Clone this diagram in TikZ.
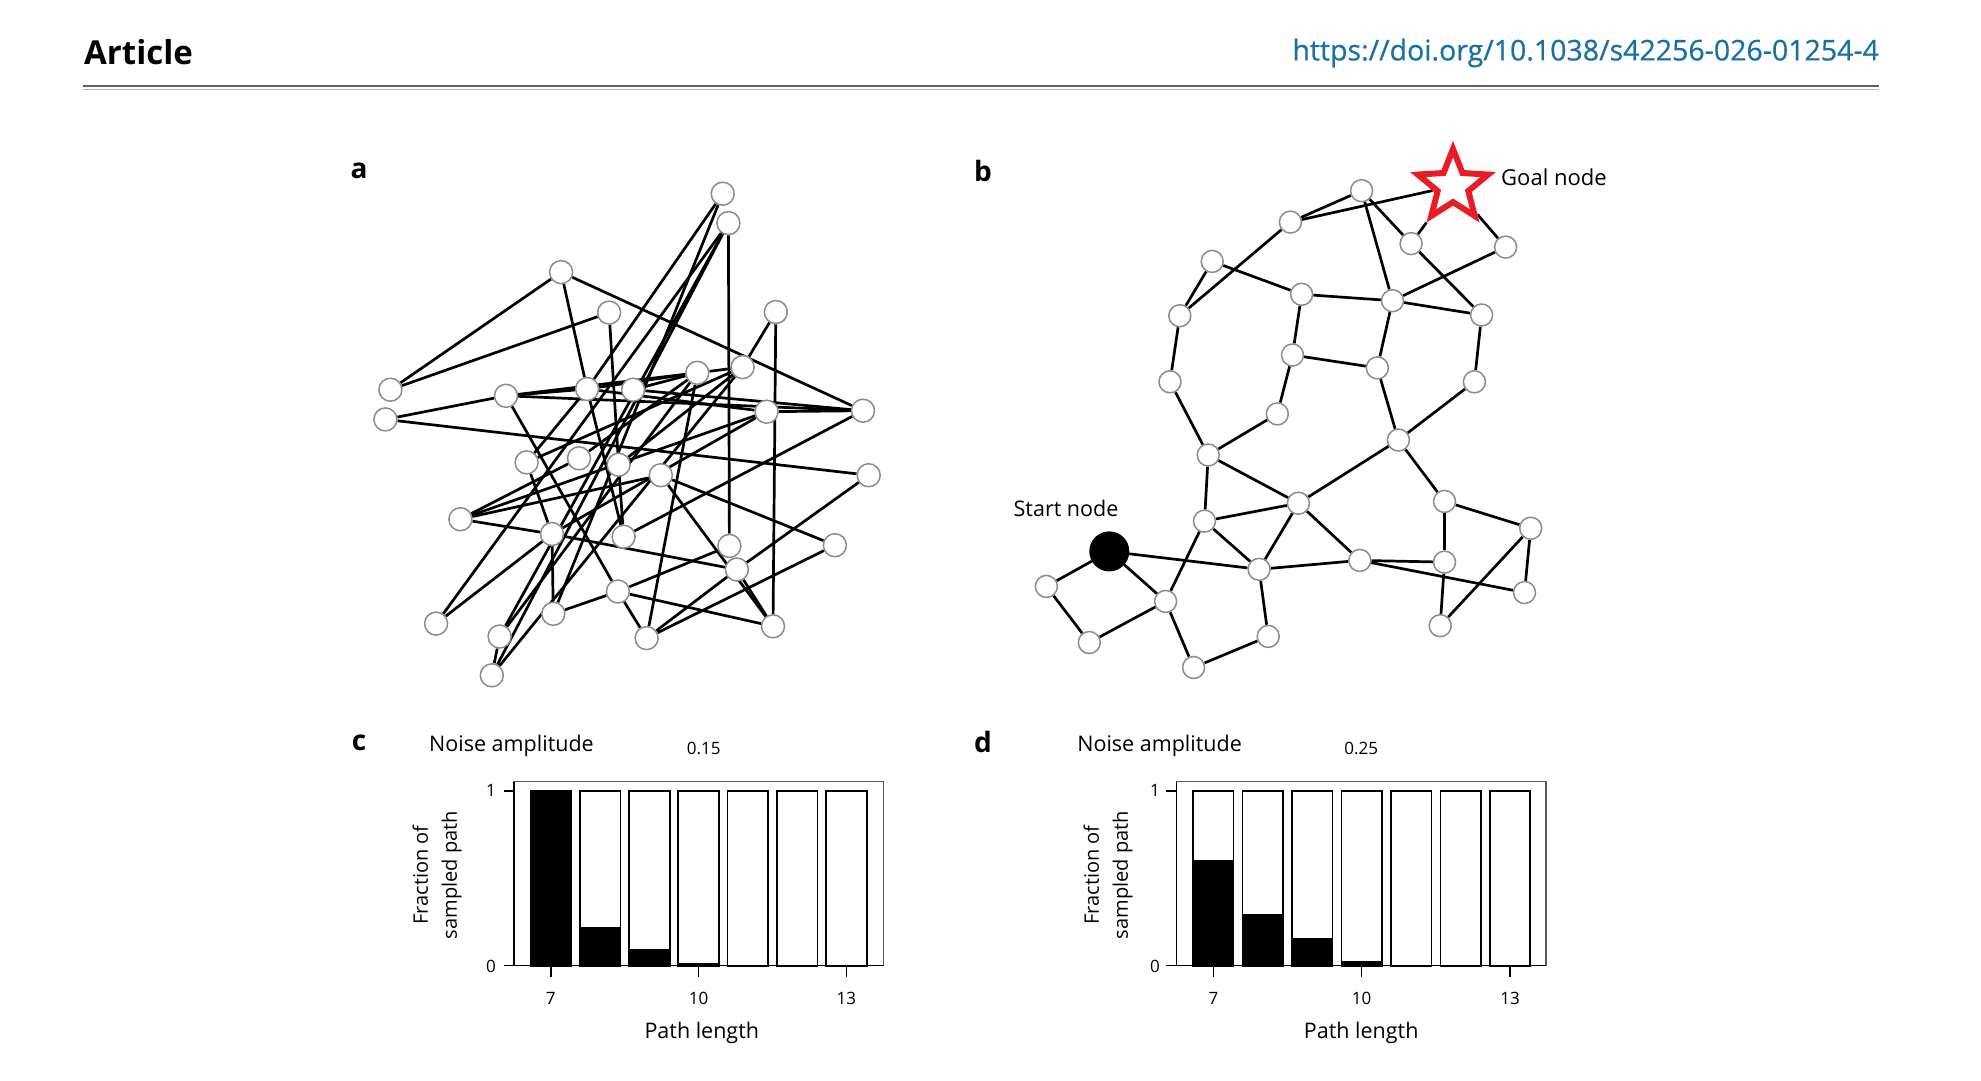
\documentclass[tikz,border=0pt]{standalone}
\usepackage{fontspec}
\setmainfont{Open Sans}
\usetikzlibrary{shapes.geometric,backgrounds}
\definecolor{doiblue}{RGB}{24,113,165}
\definecolor{goalred}{RGB}{232,28,36}
\definecolor{nodegray}{RGB}{140,140,140}
\definecolor{framegray}{RGB}{90,90,90}
\begin{document}
\begin{tikzpicture}[x=1pt,y=-1pt,
  anode/.style={circle,draw=nodegray,fill=white,line width=1.5pt,minimum size=23pt,inner sep=0pt},
  bnode/.style={circle,draw=nodegray,fill=white,line width=1.5pt,minimum size=22pt,inner sep=0pt},
  edge/.style={line width=2.7pt,black},
  lbl/.style={inner sep=0pt,font=\fontsize{21.5}{25}\selectfont},
  ticklbl/.style={inner sep=0pt,font=\fontsize{17}{20}\selectfont},
  plet/.style={inner sep=0pt,font=\fontsize{28}{32}\selectfont\bfseries},
  barline/.style={draw=black,line width=1.6pt},
  framebox/.style={draw=framegray,line width=1.3pt}]
\useasboundingbox (0,0) rectangle (1981,1080);

% ---------- header ----------
\node[inner sep=0pt,anchor=west,font=\fontsize{33}{38}\selectfont\bfseries] (title) at (84,52) {Article};
\node[inner sep=0pt,anchor=east,font=\fontsize{28.5}{33}\selectfont,text=doiblue] (doi) at (1879,53) {\addfontfeature{FakeBold=0.6}https://doi.org/10.1038/s42256-026-01254-4};
\draw[line width=2pt,gray!75!black] (83,85.5) -- (1879,85.5);
\draw[line width=1.2pt,gray!60] (83,89.5) -- (1879,89.5);

% ---------- panel letters ----------
\node[plet] (la) at (359,171) {a};
\node[plet] (lb) at (983,171) {b};
\node[plet] (lc) at (359,743) {c};
\node[plet] (ld) at (983,742) {d};

% ---------- panel a ----------
\foreach \n/\x/\y in {A1/722.7/193.7, A2/728.4/223.1, A3/561.1/272.1, A4/609.1/312.6,
  A5/775.8/312.0, A6/390.4/389.7, A7/385.4/419.4, A8/506.0/395.8, A9/587.1/389.0,
  A10/633.1/389.7, A11/697.3/372.8, A12/742.6/367.1, A13/766.6/411.7, A14/863.0/410.7,
  A15/526.6/462.4, A16/579.0/458.3, A17/618.6/464.7, A18/660.8/475.2, A19/868.7/475.2,
  A20/460.4/519.2, A21/552.0/534.0, A22/623.6/536.7, A23/729.4/545.9, A24/834.9/545.2,
  A25/736.9/569.5, A26/617.9/591.5, A27/436.1/623.6, A28/553.3/613.8, A29/499.6/636.5,
  A30/646.6/638.1, A31/773.0/626.3, A32/491.8/675.3}
  \node[anode] (\n) at (\x,\y) {};

\begin{pgfonlayer}{background}
\foreach \u/\v in {A6/A3, A6/A4, A7/A8, A7/A19, A3/A9, A3/A14, A4/A17, A17/A22, A2/A23,
  A5/A12, A5/A31, A8/A26, A8/A9, A8/A14, A8/A11, A1/A9, A1/A28, A2/A29, A2/A32, A2/A27,
  A9/A11, A10/A11, A9/A13, A11/A12, A10/A14, A13/A14, A14/A22, A15/A21, A15/A9, A15/A12,
  A20/A16, A20/A18, A20/A13, A20/A21, A21/A25, A21/A28, A21/A27, A21/A13, A28/A26,
  A26/A30, A26/A31, A26/A23, A25/A30, A30/A24, A19/A25, A30/A11, A18/A24, A18/A31,
  A25/A31, A29/A32, A32/A12, A29/A11, A9/A22, A16/A11, A17/A12}
  \draw[edge] (\u) -- (\v);
\end{pgfonlayer}

% ---------- panel b ----------
\foreach \n/\x/\y in {B1/1361.6/190.7, B2/1290.4/222.1, B3/1411.1/243.6, B4/1505.6/247.1,
  B5/1212.2/261.4, B6/1301.6/294.3, B7/1392.5/300.7, B8/1481.6/315.0, B9/1179.8/315.7,
  B10/1292.5/355.0, B11/1377.3/367.9, B12/1170.0/381.8, B13/1474.4/381.8, B14/1277.3/413.9,
  B15/1398.4/440.0, B16/1208.2/455.0, B17/1298.4/503.2, B18/1444.5/501.4, B19/1204.5/521.1,
  B20/1530.7/528.2, B21/1046.4/586.4, B22/1259.1/569.3, B23/1359.8/560.4, B24/1444.5/562.1,
  B25/1524.5/592.5, B26/1165.6/601.4, B27/1440.2/625.7, B28/1089.3/642.5, B29/1268.2/636.4,
  B30/1193.6/667.5}
  \node[bnode] (\n) at (\x,\y) {};
\node[circle,fill=black,draw=black,line width=1pt,minimum size=39pt,inner sep=0pt] (S) at (1109.3,551.4) {};
\node[star,star points=5,star point ratio=2.3,draw=goalred,fill=white,line width=6pt,
  minimum size=74pt,inner sep=0pt] (G) at (1453,186) {};

\begin{pgfonlayer}{background}
\foreach \u/\v in {B1/B2, G/B2, B1/B7, B1/B3, G/B3, G/B4, B3/B8, B4/B7, B2/B9, B5/B9,
  B5/B6, B6/B7, B7/B8, B6/B10, B7/B11, B10/B11, B8/B13, B9/B12, B10/B14, B11/B15,
  B13/B15, B12/B16, B14/B16, B16/B17, B15/B17, B16/B19, B15/B18, B17/B19, B17/B22,
  B17/B23, B19/B22, B19/B26, S/B22, S/B21, S/B26, B21/B28, B28/B26, B26/B30, B30/B29,
  B22/B29, B22/B23, B23/B24, B23/B25, B18/B24, B18/B20, B24/B27, B20/B27, B20/B25}
  \draw[edge] (\u) -- (\v);
\end{pgfonlayer}

\node[inner sep=0pt,font=\fontsize{21.5}{25}\selectfont] (startlbl) at (1066,508) {Start node};
\node[inner sep=0pt,anchor=west,font=\fontsize{22}{26}\selectfont] (goallbl) at (1501,177) {Goal node};

% ---------- panel c ----------
\node[lbl] (nac) at (511.5,746) {Noise amplitude};
\node[ticklbl] (vc) at (703.7,748) {0.15};
\draw[framebox] (513.9,781.7) rectangle (883.8,965.7);
\draw[line width=1.4pt,black] (504,965.7) -- (883.8,965.7);
\draw[line width=1.4pt,black] (504,791) -- (513.9,791);
\draw[line width=1.4pt,black] (513.9,781.7) -- (513.9,965.7);
\node[ticklbl,anchor=east] (c1) at (496,790) {1};
\node[ticklbl,anchor=east] (c0) at (496,966) {0};
\foreach \i/\v in {0/1.0,1/0.22,2/0.095,3/0.015,4/0.004,5/0.003,6/0.003} {
  \fill[white] ({530.5+49.25*\i},791) rectangle ({571.2+49.25*\i},965.7);
  \fill[black] ({530.5+49.25*\i},965.7) rectangle ({571.2+49.25*\i},{965.7-174.7*\v});
  \draw[barline] ({530.5+49.25*\i},791) rectangle ({571.2+49.25*\i},965.7);
}
\foreach \i/\t in {0/7,3/10,6/13} {
  \draw[line width=1.4pt] ({550.85+49.25*\i},965.7) -- ({550.85+49.25*\i},977);
  \node[ticklbl] at ({550.85+49.25*\i},998) {\t};
}
\node[lbl] (plc) at (701.8,1033) {Path length};
\node[inner sep=0pt,rotate=90,align=center,font=\fontsize{20}{29}\selectfont] (ylc) at (437,875) {Fraction of\\sampled path};

% ---------- panel d ----------
\node[lbl] (nad) at (1159.6,746) {Noise amplitude};
\node[ticklbl] (vd) at (1361.2,748) {0.25};
\draw[framebox] (1176.2,781.7) rectangle (1545.9,965.7);
\draw[line width=1.4pt,black] (1166,965.7) -- (1545.9,965.7);
\draw[line width=1.4pt,black] (1166,791) -- (1176.2,791);
\draw[line width=1.4pt,black] (1176.2,781.7) -- (1176.2,965.7);
\node[ticklbl,anchor=east] (d1) at (1160,790) {1};
\node[ticklbl,anchor=east] (d0) at (1160,966) {0};
\foreach \i/\v in {0/0.605,1/0.294,2/0.156,3/0.027,4/0.006,5/0.006,6/0.004} {
  \fill[white] ({1193.2+49.45*\i},791) rectangle ({1233.5+49.45*\i},965.7);
  \fill[black] ({1193.2+49.45*\i},965.7) rectangle ({1233.5+49.45*\i},{965.7-174.7*\v});
  \draw[barline] ({1193.2+49.45*\i},791) rectangle ({1233.5+49.45*\i},965.7);
}
\foreach \i/\t in {0/7,3/10,6/13} {
  \draw[line width=1.4pt] ({1213.35+49.45*\i},965.7) -- ({1213.35+49.45*\i},977);
  \node[ticklbl] at ({1213.35+49.45*\i},998) {\t};
}
\node[lbl] (pld) at (1361.2,1033) {Path length};
\node[inner sep=0pt,rotate=90,align=center,font=\fontsize{20}{29}\selectfont] (yld) at (1108,875) {Fraction of\\sampled path};
\end{tikzpicture}
\end{document}
